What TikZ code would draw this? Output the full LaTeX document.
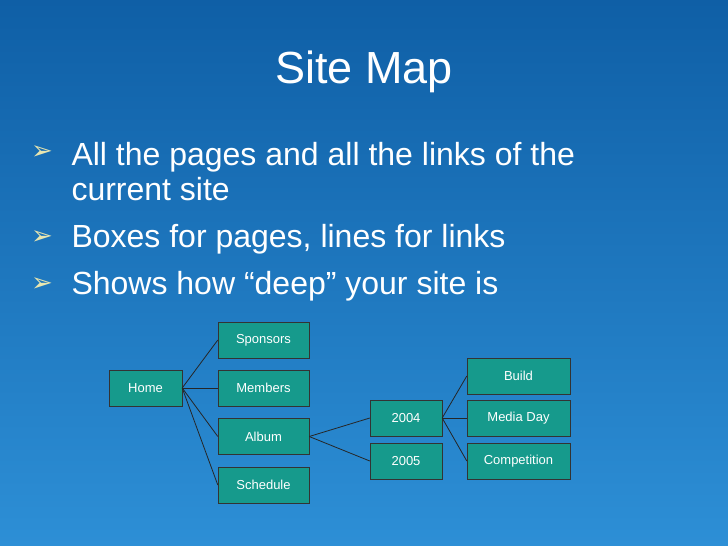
\documentclass[tikz,border=0pt]{standalone}
\usepackage{fontspec}
\setmainfont{Liberation Sans}
\newfontfamily\symfont{DejaVu Sans}
\definecolor{bgtop}{HTML}{0F5FA6}
\definecolor{bgbot}{HTML}{2D8FD6}
\definecolor{boxfill}{HTML}{169A8C}
\definecolor{bul}{HTML}{E8E6B0}
\begin{document}
\begin{tikzpicture}[x=1pt,y=-1pt,
  pg/.style={draw=black!80,fill=boxfill,text=white,minimum height=36pt,inner sep=0pt,font=\fontsize{13}{15}\selectfont},
  lnk/.style={draw=black!85,line width=0.8pt},
  arr/.style={text=bul,font=\symfont\fontsize{26}{30}\selectfont},
  bl/.style={anchor=west,text=white,font=\fontsize{32}{35}\selectfont,align=left}]
\shade[top color=bgtop,bottom color=bgbot] (0,0) rectangle (728,546);
\useasboundingbox (0,0) rectangle (728,546);
\node[text=white,font=\fontsize{45}{50}\selectfont] (title) at (364,72) {Site Map};
\node[arr] (b1) at (42,153) {➢};
\node[bl] (t1) at (68,172) {All the pages and all the links of the\\current site};
\node[arr] (b2) at (42,238) {➢};
\node[bl] (t2) at (68,239) {Boxes for pages, lines for links};
\node[arr] (b3) at (42,285) {➢};
\node[bl] (t3) at (68,286) {Shows how “deep” your site is};
\node[pg,minimum width=73pt] (home) at (145.5,388) {Home};
\node[pg,minimum width=91pt] (spons) at (263.5,340) {Sponsors};
\node[pg,minimum width=91pt] (memb) at (263.5,388) {Members};
\node[pg,minimum width=91pt] (album) at (263.5,436.5) {Album};
\node[pg,minimum width=91pt] (sched) at (263.5,485) {Schedule};
\node[pg,minimum width=72pt] (y4) at (406,418) {2004};
\node[pg,minimum width=72pt] (y5) at (406,461) {2005};
\node[pg,minimum width=103pt] (build) at (518.5,376) {Build};
\node[pg,minimum width=103pt] (media) at (518.5,418) {Media Day};
\node[pg,minimum width=103pt] (comp) at (518.5,461) {Competition};
\foreach \n in {spons,memb,album,sched} \draw[lnk] (home.east) -- (\n.west);
\foreach \n in {y4,y5} \draw[lnk] (album.east) -- (\n.west);
\foreach \n in {build,media,comp} \draw[lnk] (y4.east) -- (\n.west);
\end{tikzpicture}
\end{document}
